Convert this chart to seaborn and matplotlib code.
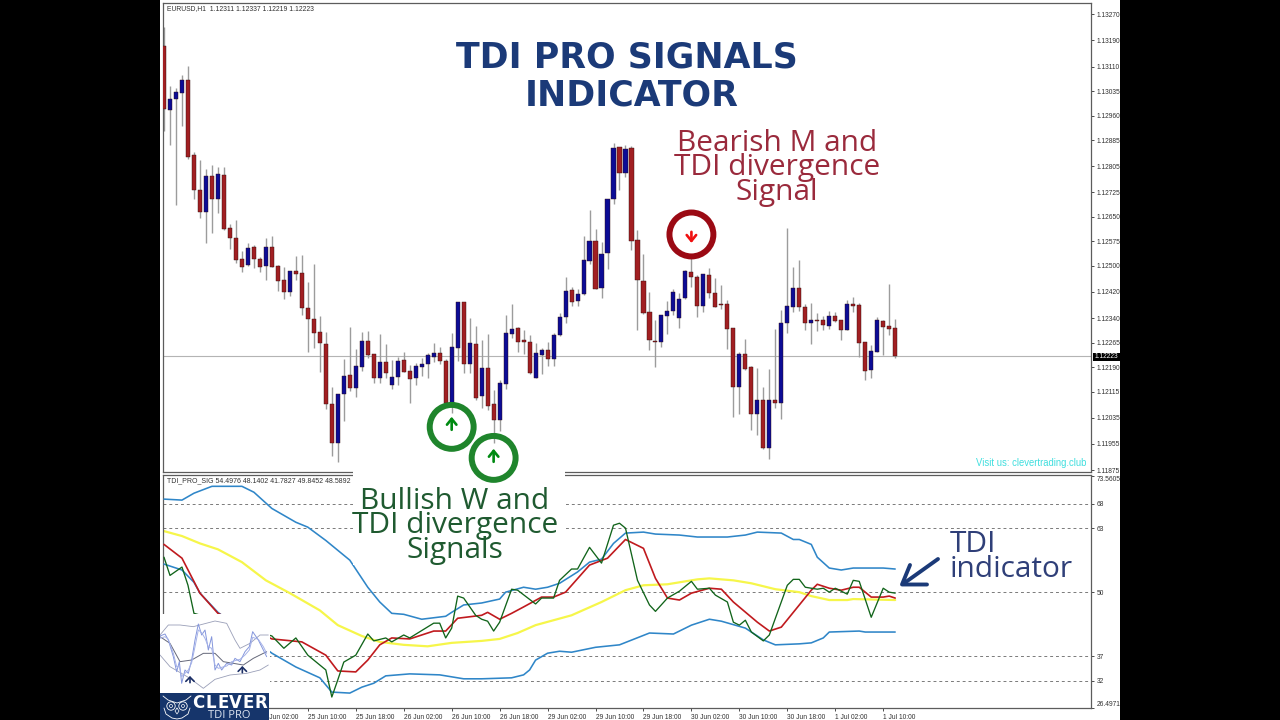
#!/usr/bin/env python3

import numpy as np
import matplotlib
matplotlib.use('Agg')
import matplotlib.pyplot as plt
from matplotlib.patches import Rectangle
import seaborn as sns

# EURUSD H1 candles
OPEN = [1.13173, 1.12977, 1.13011, 1.13029, 1.13069, 1.12840, 1.12732, 1.12665, 1.12775, 1.12705,
        1.12778, 1.12616, 1.12585, 1.12521, 1.12503, 1.12558, 1.12521, 1.12500, 1.12558, 1.12500,
        1.12457, 1.12420, 1.12484, 1.12478, 1.12371, 1.12338, 1.12298, 1.12261, 1.12077, 1.11958,
        1.12108, 1.12166, 1.12126, 1.12191, 1.12270, 1.12230, 1.12157, 1.12206, 1.12136, 1.12160,
        1.12212, 1.12178, 1.12157, 1.12191, 1.12200, 1.12221, 1.12233, 1.12209, 1.12074, 1.12249,
        1.12390, 1.12200, 1.12261, 1.12102, 1.12188, 1.12077, 1.12028, 1.12139, 1.12292, 1.12310,
        1.12273, 1.12267, 1.12157, 1.12227, 1.12243, 1.12215, 1.12289, 1.12344, 1.12426, 1.12393,
        1.12414, 1.12515, 1.12576, 1.12432, 1.12540, 1.12705, 1.12864, 1.12784, 1.12861, 1.12579,
        1.12454, 1.12359, 1.12270, 1.12267, 1.12347, 1.12362, 1.12341, 1.12402, 1.12481, 1.12466,
        1.12377, 1.12472, 1.12417, 1.12383, 1.12383, 1.12310, 1.12129, 1.12230, 1.12191, 1.12047,
        1.12090, 1.11943, 1.12090, 1.12080, 1.12325, 1.12374, 1.12432, 1.12374, 1.12325, 1.12334,
        1.12334, 1.12316, 1.12347, 1.12334, 1.12304, 1.12383, 1.12380, 1.12267, 1.12181, 1.12237,
        1.12331, 1.12316, 1.12311]
HIGH = [1.13231, 1.13051, 1.13045, 1.13084, 1.13112, 1.12849, 1.12824, 1.12797, 1.12809, 1.12803,
        1.12803, 1.12628, 1.12641, 1.12546, 1.12570, 1.12564, 1.12527, 1.12585, 1.12592, 1.12503,
        1.12497, 1.12484, 1.12530, 1.12533, 1.12451, 1.12506, 1.12347, 1.12298, 1.12129, 1.12108,
        1.12215, 1.12313, 1.12246, 1.12298, 1.12301, 1.12230, 1.12292, 1.12261, 1.12212, 1.12221,
        1.12237, 1.12197, 1.12203, 1.12218, 1.12233, 1.12264, 1.12252, 1.12215, 1.12295, 1.12390,
        1.12390, 1.12341, 1.12316, 1.12273, 1.12292, 1.12120, 1.12151, 1.12350, 1.12383, 1.12313,
        1.12304, 1.12289, 1.12264, 1.12249, 1.12267, 1.12295, 1.12356, 1.12466, 1.12435, 1.12429,
        1.12592, 1.12671, 1.12613, 1.12572, 1.12705, 1.12876, 1.12864, 1.12870, 1.12867, 1.12610,
        1.12537, 1.12420, 1.12334, 1.12350, 1.12393, 1.12429, 1.12417, 1.12487, 1.12524, 1.12472,
        1.12475, 1.12494, 1.12463, 1.12442, 1.12396, 1.12310, 1.12237, 1.12276, 1.12194, 1.12188,
        1.12129, 1.12185, 1.12307, 1.12365, 1.12616, 1.12497, 1.12518, 1.12383, 1.12386, 1.12356,
        1.12347, 1.12362, 1.12359, 1.12334, 1.12396, 1.12405, 1.12386, 1.12267, 1.12258, 1.12344,
        1.12334, 1.12445, 1.12337]
LOW = [1.12913, 1.12870, 1.12686, 1.12928, 1.12827, 1.12705, 1.12647, 1.12570, 1.12601, 1.12662,
       1.12610, 1.12552, 1.12509, 1.12481, 1.12500, 1.12494, 1.12481, 1.12457, 1.12497, 1.12423,
       1.12399, 1.12408, 1.12457, 1.12350, 1.12237, 1.12249, 1.12175, 1.12062, 1.11918, 1.11900,
       1.12025, 1.12117, 1.12099, 1.12178, 1.12218, 1.12142, 1.12142, 1.12157, 1.12123, 1.12136,
       1.12175, 1.12080, 1.12136, 1.12163, 1.12157, 1.12206, 1.12200, 1.12074, 1.12050, 1.12209,
       1.12172, 1.12172, 1.12090, 1.12065, 1.12059, 1.11958, 1.11995, 1.12123, 1.12279, 1.12237,
       1.12230, 1.12169, 1.12157, 1.12169, 1.12194, 1.12194, 1.12285, 1.12325, 1.12377, 1.12377,
       1.12411, 1.12506, 1.12429, 1.12402, 1.12491, 1.12690, 1.12732, 1.12772, 1.12549, 1.12304,
       1.12353, 1.12243, 1.12191, 1.12252, 1.12292, 1.12350, 1.12310, 1.12399, 1.12435, 1.12344,
       1.12359, 1.12402, 1.12374, 1.12368, 1.12246, 1.12038, 1.12047, 1.12181, 1.11998, 1.11982,
       1.11940, 1.11909, 1.12065, 1.12031, 1.12295, 1.12359, 1.12362, 1.12304, 1.12261, 1.12301,
       1.12304, 1.12307, 1.12328, 1.12273, 1.12304, 1.12359, 1.12221, 1.12151, 1.12157, 1.12237,
       1.12227, 1.12289, 1.12219]
CLOSE = [1.12980, 1.13011, 1.13032, 1.13069, 1.12833, 1.12732, 1.12665, 1.12775, 1.12705, 1.12781,
         1.12613, 1.12585, 1.12518, 1.12497, 1.12555, 1.12521, 1.12497, 1.12558, 1.12497, 1.12454,
         1.12420, 1.12484, 1.12475, 1.12371, 1.12338, 1.12295, 1.12264, 1.12077, 1.11958, 1.12108,
         1.12163, 1.12126, 1.12194, 1.12270, 1.12227, 1.12157, 1.12206, 1.12172, 1.12160, 1.12209,
         1.12175, 1.12154, 1.12194, 1.12200, 1.12227, 1.12233, 1.12209, 1.12080, 1.12252, 1.12390,
         1.12200, 1.12264, 1.12096, 1.12188, 1.12071, 1.12028, 1.12142, 1.12295, 1.12307, 1.12267,
         1.12267, 1.12172, 1.12233, 1.12243, 1.12215, 1.12289, 1.12344, 1.12423, 1.12390, 1.12414,
         1.12518, 1.12576, 1.12429, 1.12537, 1.12705, 1.12861, 1.12784, 1.12858, 1.12576, 1.12457,
         1.12356, 1.12273, 1.12267, 1.12350, 1.12362, 1.12420, 1.12399, 1.12484, 1.12466, 1.12377,
         1.12475, 1.12417, 1.12374, 1.12380, 1.12307, 1.12129, 1.12230, 1.12185, 1.12047, 1.12090,
         1.11943, 1.12090, 1.12080, 1.12325, 1.12377, 1.12432, 1.12374, 1.12325, 1.12334, 1.12331,
         1.12319, 1.12347, 1.12331, 1.12304, 1.12383, 1.12377, 1.12264, 1.12178, 1.12240, 1.12334,
         1.12313, 1.12307, 1.12223]

PRICE_TICKS = [1.13270, 1.13190, 1.13110, 1.13035, 1.12960, 1.12885, 1.12805, 1.12725, 1.12650, 1.12575,
               1.12500, 1.12420, 1.12340, 1.12265, 1.12190, 1.12115, 1.12035, 1.11955, 1.11875]
BID = 1.12223

# signal rings and the arrow tips inside them
BULL_BARS = [48, 55]
BULL_PRICES = [1.12007, 1.11912]
BULL_TIPS = [1.12038, 1.11940]
BEAR_BARS = [88]
BEAR_PRICES = [1.12596]
BEAR_TIPS = [1.12570]

UPPER_BARS = [0, 3, 5, 8, 13, 15, 18, 22, 24, 27, 31, 34, 36, 38, 40, 43, 47, 48, 50, 53, 56, 57, 60, 62, 64,
              66, 69, 71, 73, 75, 77, 80, 82, 86, 89, 94, 97, 99, 103, 105, 106, 108, 109, 111, 113, 115, 120, 122]
UPPER_VALS = [68.9, 68.7, 70.1, 71.5, 71.5, 70.3, 67.0, 64.2, 63.2, 60.5, 56.5, 51.0, 48.0, 45.7, 45.5, 44.5,
              45.1, 45.9, 47.4, 47.8, 48.6, 50.0, 51.0, 50.6, 51.0, 51.8, 54.1, 56.1, 56.7, 59.9, 62.0, 62.2,
              61.8, 61.6, 61.2, 61.2, 61.6, 62.2, 62.0, 60.7, 60.7, 59.7, 57.1, 54.9, 54.5, 54.9, 54.9, 54.7]
LOWER_BARS = [0, 3, 5, 6, 9, 18, 22, 26, 28, 31, 33, 35, 37, 41, 46, 50, 53, 58, 60, 61, 62, 64, 66, 68, 72,
              76, 81, 85, 88, 91, 93, 97, 100, 102, 106, 108, 110, 111, 116, 117, 122]
LOWER_VALS = [55.7, 54.5, 52.0, 49.8, 45.9, 37.6, 34.8, 32.6, 29.7, 29.5, 30.7, 31.5, 33.0, 33.4, 33.2, 32.4,
              32.4, 32.6, 33.2, 34.2, 36.2, 37.6, 38.0, 37.8, 38.8, 39.3, 41.7, 41.5, 43.3, 44.5, 44.1, 42.7,
              40.3, 39.3, 39.5, 39.7, 40.7, 41.9, 42.1, 41.9, 41.9]
MID_BARS = [0, 3, 6, 9, 13, 17, 21, 26, 29, 33, 36, 40, 44, 48, 53, 56, 59, 62, 68, 73, 77, 80, 84, 89, 91,
            95, 98, 102, 106, 108, 111, 114, 115, 122]
MID_VALS = [62.4, 61.4, 59.9, 58.7, 56.1, 52.4, 49.8, 46.3, 43.3, 41.1, 39.9, 39.3, 39.0, 39.7, 40.1, 40.5,
            41.7, 43.3, 45.3, 48.0, 50.4, 51.4, 51.6, 52.6, 52.8, 52.4, 51.8, 50.6, 50.0, 49.2, 48.4, 48.4,
            48.6, 48.4]
SIGNAL_BARS = [0, 3, 6, 9, 18, 23, 27, 29, 32, 34, 36, 38, 41, 45, 47, 49, 53, 54, 56, 58, 60, 63, 65, 67, 71,
               74, 77, 80, 82, 84, 86, 88, 91, 93, 95, 99, 101, 103, 106, 108, 109, 111, 113, 115, 116, 118,
               120, 121, 122]
SIGNAL_VALS = [59.7, 56.9, 49.8, 45.7, 40.5, 39.9, 37.2, 34.0, 33.8, 36.2, 39.3, 40.7, 40.5, 42.1, 42.1, 44.7,
               45.3, 45.9, 44.5, 45.7, 47.0, 49.0, 49.0, 50.0, 55.5, 56.9, 60.7, 58.9, 52.8, 48.8, 48.4, 49.8,
               50.8, 50.6, 48.0, 43.9, 42.1, 42.9, 47.4, 50.4, 51.6, 50.8, 50.4, 51.0, 51.0, 49.0, 49.0, 49.2,
               48.8]
RSI_BARS = [0, 1, 3, 4, 5, 18, 20, 22, 24, 27, 28, 29, 30, 32, 34, 35, 37, 38, 40, 41, 45, 46, 47, 48, 49, 50,
            52, 53, 54, 55, 56, 58, 59, 62, 63, 65, 66, 68, 69, 71, 73, 75, 76, 77, 79, 81, 82, 84, 86, 88, 89,
            91, 92, 94, 95, 96, 97, 98, 100, 101, 104, 105, 106, 107, 109, 110, 111, 112, 114, 115, 116, 118,
            120, 121, 122]
RSI_VALS = [57.1, 53.4, 55.1, 51.4, 45.7, 41.1, 38.6, 40.7, 37.2, 34.2, 28.7, 32.2, 35.8, 37.2, 41.5, 40.1,
            40.7, 39.9, 41.3, 40.7, 43.7, 43.7, 40.7, 42.7, 49.2, 48.8, 45.3, 44.5, 44.1, 42.1, 43.9, 50.6,
            50.4, 47.6, 48.8, 48.8, 52.4, 54.7, 54.7, 59.1, 55.9, 63.6, 64.0, 63.0, 52.4, 47.4, 46.1, 48.8,
            50.2, 52.2, 50.6, 50.8, 49.4, 48.0, 43.9, 43.3, 44.3, 41.9, 40.1, 41.3, 51.4, 52.6, 52.6, 51.0,
            50.6, 50.8, 50.0, 50.8, 49.6, 52.4, 52.2, 44.9, 50.8, 50.0, 49.8]

TDI_LEVELS = [68, 63, 50, 37, 32]
TDI_TICKS = [73.5605, 68, 63, 50, 37, 32, 26.4971]
TDI_TICK_TEXT = ['73.5605', '68', '63', '50', '37', '32', '26.4971']

TIME_BARS = [16, 24, 32, 40, 48, 56, 64, 72, 80, 88, 96, 104, 112, 120]
TIME_TEXT = ['25 Jun 02:00', '25 Jun 10:00', '25 Jun 18:00', '26 Jun 02:00', '26 Jun 10:00', '26 Jun 18:00',
             '29 Jun 02:00', '29 Jun 10:00', '29 Jun 18:00', '30 Jun 02:00', '30 Jun 10:00', '30 Jun 18:00',
             '1 Jul 02:00', '1 Jul 10:00']

# thumbnail chart above the logo
MINI_X = [0, 15, 25, 40, 50, 58, 65, 75, 85, 95, 105, 115, 125, 135, 145, 155, 165, 175, 185, 200, 215, 225,
          240, 255, 268, 278, 295, 310, 320]
MINI_RSI = [48, 42, 60, 110, 155, 125, 190, 150, 160, 120, 60, 12, 45, 30, 90, 50, 150, 130, 150, 130, 135,
            115, 125, 95, 80, 35, 60, 90, 110]
MINI_RSI2 = [55, 50, 58, 100, 140, 140, 170, 160, 150, 128, 80, 30, 38, 55, 80, 85, 135, 145, 142, 138, 125,
             122, 118, 105, 90, 52, 58, 80, 100]
MINI_UP_X = [0, 25, 60, 100, 165, 200, 225, 240, 270, 300, 325]
MINI_UP = [45, 15, 15, 20, 3, 10, 60, 85, 70, 45, 45]
MINI_DN_X = [0, 30, 90, 130, 165, 210, 260, 300, 325]
MINI_DN = [105, 140, 175, 205, 178, 165, 160, 150, 135]
MINI_MID_X = [0, 30, 60, 95, 130, 165, 190, 250, 280, 320]
MINI_MID = [50, 70, 125, 120, 100, 100, 125, 135, 115, 95]
MINI_ARROW_X = [90, 247]
MINI_ARROW_Y = [188, 158]

NAVY = '#1b3a78'
W, H = 1280, 720


def px_box(x0, y0, x1, y1):
    return [x0/W, 1-y1/H, (x1-x0)/W, (y1-y0)/H]


def fig_rect(fig, x0, y0, x1, y1, color, z):
    fig.add_artist(Rectangle((x0/W, 1-y1/H), (x1-x0)/W, (y1-y0)/H, transform=fig.transFigure,
                             facecolor=color, edgecolor='none', zorder=z))


def fig_label(fig, x, y, s, **kw):
    fig.text(x/W, 1-y/H, s, zorder=6, **kw)


def dress_spines(ax):
    for s in ax.spines.values():
        s.set_color('#5c5c5c')
        s.set_linewidth(0.9)
        s.set_visible(True)


sns.set_theme(style='white')
plt.rcParams['font.family'] = ['Liberation Sans', 'DejaVu Sans']

fig = plt.figure(figsize=(W/100, H/100), dpi=100, facecolor='black')
fig_rect(fig, 160, 0, 1120, 720, 'white', -1)

ax = fig.add_axes(px_box(163, 3, 1091, 471.5))
ax2 = fig.add_axes(px_box(163, 474.5, 1091, 708))
for a in (ax, ax2):
    a.set_xlim(-1/6, 154.67)
    dress_spines(a)
    a.patch.set_alpha(0)

bars = np.arange(len(OPEN))
op, hi, lo, cl = map(np.array, (OPEN, HIGH, LOW, CLOSE))
body_color = ['#0c0c96' if c >= o else '#a11f22' for o, c in zip(op, cl)]

price_lim = (1.11875 - 1.5*3.061e-5, 1.13270 + 11.3*3.061e-5)
ax.set_ylim(*price_lim)
ax.axhline(BID, color='#b4b4b4', lw=0.8, zorder=1)
ax.vlines(bars, lo, hi, color='#9c9c9c', lw=1.0, zorder=2)
ax.bar(bars, np.abs(cl-op), bottom=np.minimum(op, cl), width=0.68, color=body_color,
       edgecolor='#300c0c', linewidth=0.3, zorder=3)

ax.yaxis.tick_right()
ax.set_yticks(PRICE_TICKS)
ax.set_yticklabels([f'{t:.5f}' for t in PRICE_TICKS])
ax.set_xticks([])
ax.tick_params(axis='y', length=2, width=0.6, pad=2, labelsize=4.8, colors='#303030', right=True)

# TDI panel
ax2.set_ylim(26.47, 73.9)
for lev in TDI_LEVELS:
    ax2.axhline(lev, color='#7a7a7a', lw=0.7, ls=(0, (3, 3)), zorder=1)
sns.lineplot(x=MID_BARS, y=MID_VALS, ax=ax2, color='#f6f64a', lw=1.6, errorbar=None, zorder=2)
sns.lineplot(x=UPPER_BARS, y=UPPER_VALS, ax=ax2, color='#2f86c8', lw=1.15, errorbar=None, zorder=3)
sns.lineplot(x=LOWER_BARS, y=LOWER_VALS, ax=ax2, color='#2f86c8', lw=1.15, errorbar=None, zorder=3)
sns.lineplot(x=SIGNAL_BARS, y=SIGNAL_VALS, ax=ax2, color='#c01a1e', lw=1.2, errorbar=None, zorder=4)
sns.lineplot(x=RSI_BARS, y=RSI_VALS, ax=ax2, color='#11641a', lw=0.95, errorbar=None, zorder=5)
ax2.set_xlim(-1/6, 154.67)
ax2.yaxis.tick_right()
ax2.set_yticks(TDI_TICKS)
ax2.set_yticklabels(TDI_TICK_TEXT)
ax2.get_yticklabels()[0].set_va('top')
ax2.get_yticklabels()[-1].set_va('bottom')
ax2.set_xticks(TIME_BARS)
ax2.set_xticklabels(TIME_TEXT, ha='left')
ax2.tick_params(axis='y', length=2, width=0.6, pad=2, labelsize=4.8, colors='#303030', right=True)
ax2.tick_params(axis='x', length=2, width=0.6, pad=2, labelsize=4.8, colors='#303030', bottom=True)

# white block behind the green caption
fig_rect(fig, 353, 470, 565, 565, 'white', 3)

# signal rings sit on their own layer so they can run over the white block
sig = fig.add_axes(px_box(163, 3, 1091, 471.5), zorder=4)
sig.patch.set_alpha(0)
sig.set_axis_off()
sig.set_xlim(-1/6, 154.67)
sig.set_ylim(*price_lim)
sig.scatter(BULL_BARS, BULL_PRICES, s=1000, facecolors='none', edgecolors='#1f852c', linewidths=4.3, clip_on=False)
sig.scatter(BEAR_BARS, BEAR_PRICES, s=1000, facecolors='none', edgecolors='#9b0a14', linewidths=4.3, clip_on=False)
for b, p in zip(BULL_BARS, BULL_TIPS):
    sig.annotate('', xy=(b, p), xytext=(0, -9.4), textcoords='offset points', annotation_clip=False,
                 arrowprops=dict(arrowstyle='->,head_length=0.42,head_width=0.34', color='#008a12', lw=1.9,
                                 mutation_scale=10, shrinkA=0, shrinkB=0))
for b, p in zip(BEAR_BARS, BEAR_TIPS):
    sig.annotate('', xy=(b, p), xytext=(0, 8), textcoords='offset points', annotation_clip=False,
                 arrowprops=dict(arrowstyle='->,head_length=0.42,head_width=0.34', color='#f01010', lw=1.9,
                                 mutation_scale=10, shrinkA=0, shrinkB=0))

# thumbnail
mini = fig.add_axes(px_box(160, 614, 270, 693), facecolor='white', zorder=4)
mini.set_xticks([])
mini.set_yticks([])
for s in mini.spines.values():
    s.set_visible(False)
sns.lineplot(x=MINI_UP_X, y=MINI_UP, ax=mini, color='#9a9fb8', lw=0.6, errorbar=None)
sns.lineplot(x=MINI_DN_X, y=MINI_DN, ax=mini, color='#9a9fb8', lw=0.6, errorbar=None)
sns.lineplot(x=MINI_MID_X, y=MINI_MID, ax=mini, color='#65687a', lw=0.7, errorbar=None)
sns.lineplot(x=MINI_X, y=MINI_RSI, ax=mini, color='#8496dc', lw=0.7, errorbar=None)
sns.lineplot(x=MINI_X, y=MINI_RSI2, ax=mini, color='#a5b2e8', lw=0.7, errorbar=None)
mini.set_xlim(0, 330)
mini.set_ylim(219, -18)
for ax_x, ax_y in zip(MINI_ARROW_X, MINI_ARROW_Y):
    mini.annotate('', xy=(ax_x, ax_y-20), xytext=(ax_x, ax_y),
                  arrowprops=dict(arrowstyle='->,head_length=0.25,head_width=0.25', color='#1c2f66', lw=1.2,
                                  shrinkA=0, shrinkB=0))

# logo strip
logo = fig.add_axes(px_box(160, 693, 269, 720), facecolor='#16356b', zorder=5)
logo.set_xlim(160, 269)
logo.set_ylim(720, 693)
logo.set_xticks([])
logo.set_yticks([])
for s in logo.spines.values():
    s.set_visible(False)
for cx in (171, 183):
    logo.add_patch(plt.Circle((cx, 706), 4.2, fill=False, color='white', lw=0.6))
    logo.add_patch(plt.Circle((cx, 706), 1.5, fill=False, color='white', lw=0.5))
logo.plot([163, 168, 177, 186, 191], [696, 700, 703, 700, 696], color='white', lw=0.6)
logo.plot([164, 166, 172, 177, 182, 188, 190], [708, 714, 718, 719, 718, 714, 708], color='white', lw=0.6)
logo.plot([177, 175, 177, 179, 177], [708, 711, 714, 711, 708], color='white', lw=0.5)
for letter, lx in zip('CLEVER', [198, 211, 223, 235, 248, 261]):
    fig_label(fig, lx, 703.5, letter, color='white', fontsize=12, fontweight='bold', ha='center', va='center',
              family='DejaVu Sans')
fig_label(fig, 229, 716, 'TDI PRO', color='#dfe6f2', fontsize=8, ha='center', va='center', family='Open Sans')

# small text in the chart
fig_label(fig, 167, 9, 'EURUSD,H1  1.12311 1.12337 1.12219 1.12223', fontsize=4.9, color='#303030', va='center')
fig_label(fig, 167, 481, 'TDI_PRO_SIG 54.4976 48.1402 41.7827 49.8452 48.5892', fontsize=5.05, color='#303030',
          va='center')
fig_label(fig, 1086, 463, 'Visit us: clevertrading.club', fontsize=6.85, color='#3fdede', ha='right', va='center')

# bid tag
fig_rect(fig, 1093, 353, 1120, 361, 'black', 5)
fig_label(fig, 1095, 357, f'{BID:.5f}', fontsize=4.8, color='white', va='center')

# overlay captions, placed by the baseline of their last line
TITLE_FONT = dict(color=NAVY, fontsize=25, fontweight='bold', ha='center', va='baseline', family='DejaVu Sans')
CAPTION_FONT = dict(fontsize=21.5, va='baseline', family='Open Sans', linespacing=0.8)
fig_label(fig, 627, 68, 'TDI PRO SIGNALS', **TITLE_FONT)
fig_label(fig, 632, 105, 'INDICATOR', **TITLE_FONT)
fig_label(fig, 777, 200, 'Bearish M and\nTDI divergence\nSignal', color='#9a2a3c', ha='center', multialignment='center',
          **CAPTION_FONT)
fig_label(fig, 455, 558, 'Bullish W and\nTDI divergence\nSignals', color='#1f5a30', ha='center',
          multialignment='center', **CAPTION_FONT)
fig_label(fig, 950, 577, 'TDI\nindicator', color='#2f3f78', ha='left', **CAPTION_FONT)

# arrow to the TDI panel
fig.add_artist(plt.Line2D([938/W, 903/W], [1-559/H, 1-584/H], color=NAVY, lw=2.8, zorder=6))
fig.add_artist(plt.Line2D([910/W, 902/W, 927/W], [1-565/H, 1-584.5/H, 1-584.5/H], color=NAVY, lw=2.8, zorder=6))

# black side bars on top, they cut the long price labels
fig_rect(fig, 0, 0, 160, 720, 'black', 7)
fig_rect(fig, 1120, 0, 1280, 720, 'black', 7)

fig.savefig('out.png', dpi=100, facecolor='black')
